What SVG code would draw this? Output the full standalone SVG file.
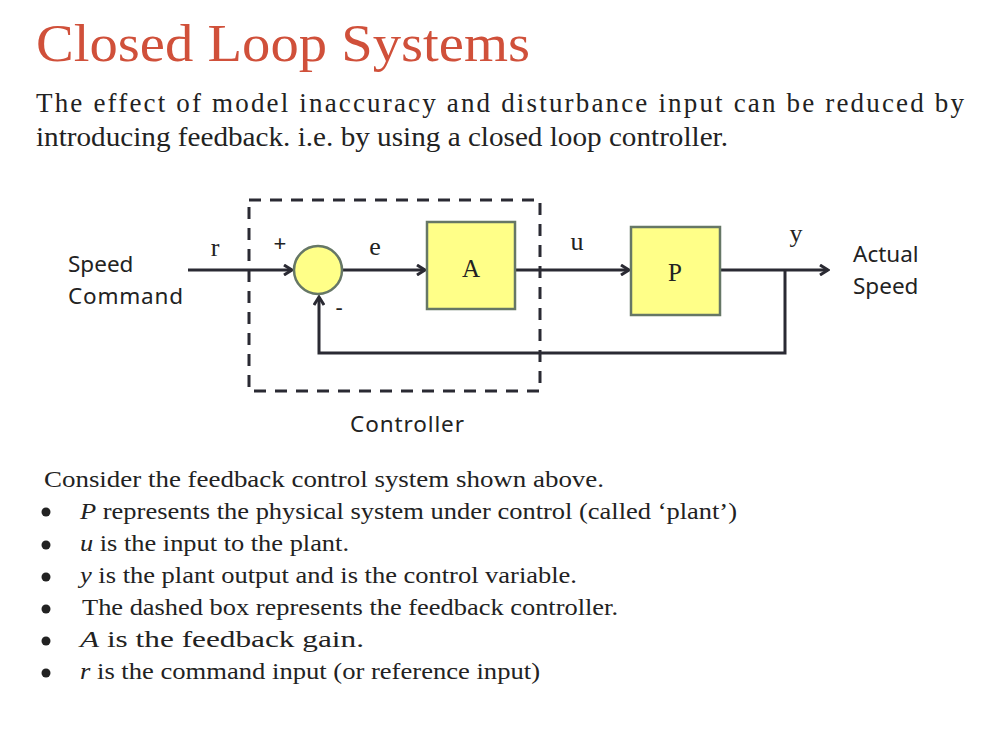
<svg xmlns="http://www.w3.org/2000/svg" width="983" height="729" viewBox="0 0 983 729">
<style>
.serif{font-family:"Liberation Serif","DejaVu Serif",serif;fill:#222}
.sans{font-family:"Noto Sans","Open Sans",sans-serif;fill:#222;font-size:22.5px}
.blk{fill:#ffff88;stroke:#667766;stroke-width:2.5}
.ln{stroke:#2a2a33;stroke-width:3;fill:none}
</style>
<defs><marker id="ar" markerWidth="12" markerHeight="12" refX="10" refY="6" orient="auto" markerUnits="userSpaceOnUse"><path d="M2,1 L10,6 L2,11" fill="none" stroke="#2a2a33" stroke-width="3"/></marker></defs>
<rect width="983" height="729" fill="#fff"/>
<text x="36" y="61" font-family="Liberation Serif,serif" font-size="52" fill="#d0503a" textLength="494" lengthAdjust="spacingAndGlyphs">Closed Loop Systems</text>
<text class="serif" font-size="27" x="36" y="112" textLength="928" lengthAdjust="spacing">The effect of model inaccuracy and disturbance input can be reduced by</text>
<text class="serif" font-size="27" x="36" y="146" textLength="692" lengthAdjust="spacingAndGlyphs">introducing feedback. i.e. by using a closed loop controller.</text>
<rect x="249" y="200" width="291" height="191" fill="none" stroke="#2a2a33" stroke-width="3" stroke-dasharray="12,9"/>
<g id="connectors">
<path class="ln" d="M188,270 H292" marker-end="url(#ar)"/>
<path class="ln" d="M343,270 H425" marker-end="url(#ar)"/>
<path class="ln" d="M516,270 H629" marker-end="url(#ar)"/>
<path class="ln" d="M721,270 H828" marker-end="url(#ar)"/>
<path class="ln" d="M785,270 V353 H319 V297" marker-end="url(#ar)"/>
</g>
<g id="sum"><circle class="blk" cx="318" cy="270" r="24"/></g>
<g id="A"><rect class="blk" x="427" y="222" width="88" height="87"/><text class="serif" font-size="25" x="471" y="277" text-anchor="middle">A</text></g>
<g id="P"><rect class="blk" x="631" y="227" width="89" height="88"/><text class="serif" font-size="25" x="675" y="281" text-anchor="middle">P</text></g>
<text class="serif" font-size="26" x="215" y="256" text-anchor="middle">r</text>
<text class="serif" font-size="26" x="375" y="255" text-anchor="middle">e</text>
<text class="serif" font-size="26" x="577" y="250" text-anchor="middle">u</text>
<text class="serif" font-size="26" x="796" y="242" text-anchor="middle">y</text>
<text class="sans" font-size="16" x="280" y="251" text-anchor="middle">+</text>
<text class="sans" font-size="18" x="339" y="315" text-anchor="middle">-</text>
<text class="sans" x="68" y="272">Speed</text>
<text class="sans" x="68" y="304" textLength="115">Command</text>
<text class="sans" x="853" y="262">Actual</text>
<text class="sans" x="853" y="294">Speed</text>
<text class="sans" x="407" y="432" text-anchor="middle" textLength="114">Controller</text>
<g class="serif" font-size="24">
<text x="44" y="487" textLength="560" lengthAdjust="spacingAndGlyphs">Consider the feedback control system shown above.</text>
<g fill="#222"><circle cx="46" cy="512" r="4.5"/><circle cx="46" cy="545" r="4.5"/><circle cx="46" cy="577" r="4.5"/><circle cx="46" cy="609" r="4.5"/><circle cx="46" cy="641" r="4.5"/><circle cx="46" cy="673" r="4.5"/></g>
<text x="80" y="519" textLength="657" lengthAdjust="spacingAndGlyphs"><tspan font-style="italic">P</tspan> represents the physical system under control (called ‘plant’)</text>
<text x="80" y="551" textLength="269" lengthAdjust="spacingAndGlyphs"><tspan font-style="italic">u</tspan> is the input to the plant.</text>
<text x="80" y="583" textLength="497" lengthAdjust="spacingAndGlyphs"><tspan font-style="italic">y</tspan> is the plant output and is the control variable.</text>
<text x="82" y="615" textLength="536" lengthAdjust="spacingAndGlyphs">The dashed box represents the feedback controller.</text>
<text x="80" y="647" textLength="284" lengthAdjust="spacingAndGlyphs"><tspan font-style="italic">A</tspan> is the feedback gain.</text>
<text x="80" y="679" textLength="460" lengthAdjust="spacingAndGlyphs"><tspan font-style="italic">r</tspan> is the command input (or reference input)</text>
</g>
</svg>
